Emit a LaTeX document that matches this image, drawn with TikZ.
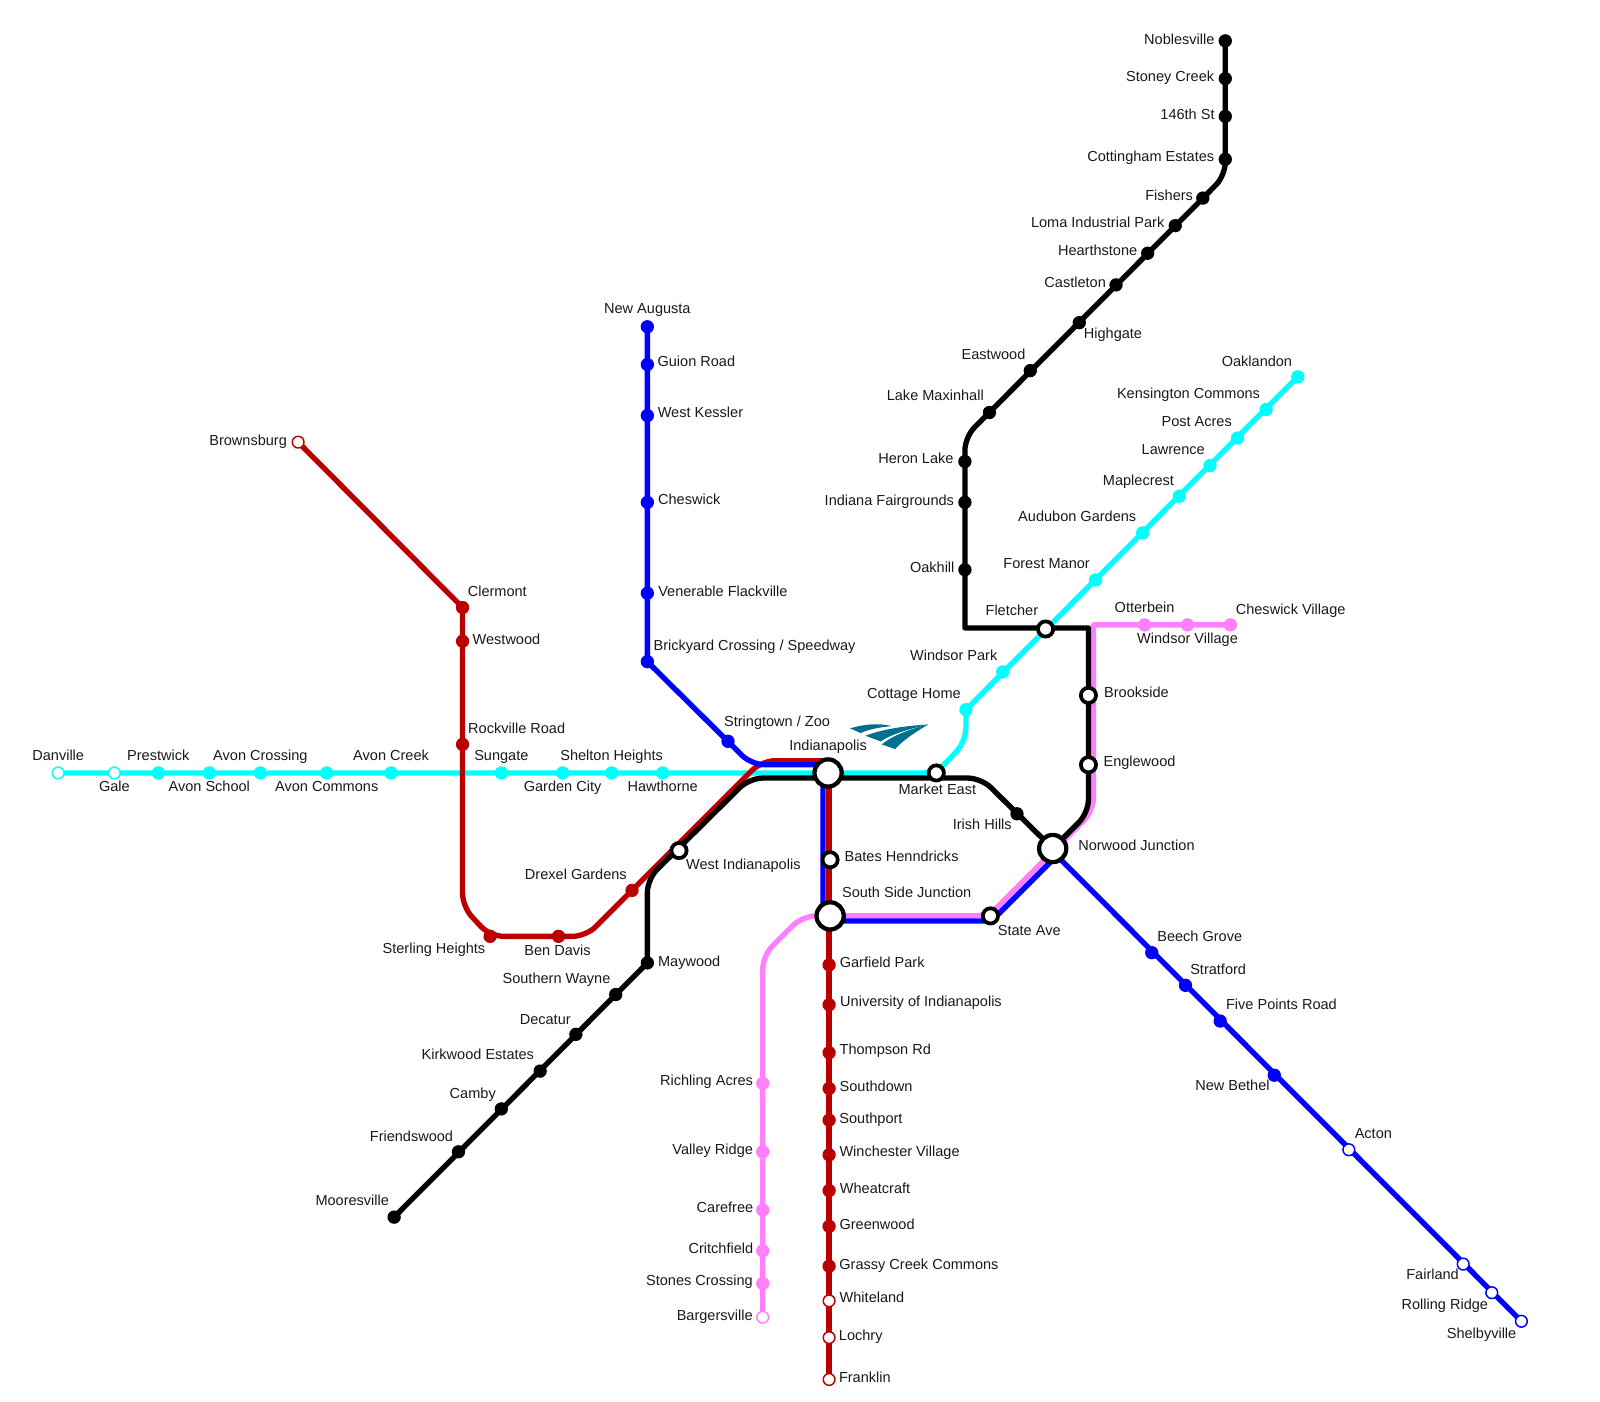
\documentclass[tikz,border=0pt]{standalone}
\usepackage{fontspec}
\setmainfont{Liberation Sans}
\usetikzlibrary{backgrounds}

\definecolor{linecyan}{HTML}{00FFFF}
\definecolor{lineblue}{HTML}{0000FF}
\definecolor{linered}{HTML}{BB0000}
\definecolor{linepink}{HTML}{FF80FF}
\definecolor{logoteal}{HTML}{00708F}

\tikzset{
  lab/.style={font=\fontsize{10.9}{12}\selectfont, text=black!90, inner sep=0pt, text height=7.8pt, text depth=0pt},
  dot/.style={circle, fill=#1, inner sep=0pt, minimum size=10pt},
  terminus/.style={circle, draw=#1, fill=white, line width=1.1pt, inner sep=0pt, minimum size=8.8pt},
  hub/.style={circle, draw=black, fill=white, line width=2.8pt, inner sep=0pt, minimum size=11.4pt},
  bighub/.style={circle, draw=black, fill=white, line width=3.2pt, inner sep=0pt, minimum size=20.4pt},
  route/.style={draw=#1, line width=4pt, line join=round, rounded corners=10pt},
}

\begin{document}
\begin{tikzpicture}[x=0.7658pt, y=-0.7658pt]
  \useasboundingbox (0,0) rectangle (1567,1373);

  % black line, north
  \node[dot=black] (noblesville) at (1200,40) {};
  \node[dot=black] (stoney) at (1200,77) {};
  \node[dot=black] (st146) at (1200,114) {};
  \node[dot=black] (cottingham) at (1200,156) {};
  \node[dot=black] (fishers) at (1178,194) {};
  \node[dot=black] (loma) at (1151,221) {};
  \node[dot=black] (hearthstone) at (1124,248) {};
  \node[dot=black] (castleton) at (1093,279) {};
  \node[dot=black] (highgate) at (1057,316) {};
  \node[dot=black] (eastwood) at (1009,363) {};
  \node[dot=black] (maxinhall) at (969,404) {};
  \node[dot=black] (heron) at (945,452) {};
  \node[dot=black] (fairgrounds) at (945,492) {};
  \node[dot=black] (oakhill) at (945,558) {};
  \node[hub] (fletcher) at (1024,616) {};
  \node[hub] (brookside) at (1066,681) {};
  \node[hub] (englewood) at (1066,749) {};
  \node[bighub] (norwood) at (1031,831) {};

  \node[lab] (noblesville_l) at (1155,38) {Noblesville};
  \node[lab] (stoney_l) at (1146,75) {Stoney Creek};
  \node[lab] (st146_l) at (1163,112) {146th St};
  \node[lab] (cottingham_l) at (1127,153) {Cottingham Estates};
  \node[lab] (fishers_l) at (1145,191) {Fishers};
  \node[lab] (loma_l) at (1075,218) {Loma Industrial Park};
  \node[lab] (hearthstone_l) at (1075,245) {Hearthstone};
  \node[lab] (castleton_l) at (1053,276) {Castleton};
  \node[lab] (highgate_l) at (1090,326) {Highgate};
  \node[lab] (eastwood_l) at (973,347) {Eastwood};
  \node[lab] (maxinhall_l) at (916,387) {Lake Maxinhall};
  \node[lab] (heron_l) at (897,449) {Heron Lake};
  \node[lab] (fairgrounds_l) at (871,490) {Indiana Fairgrounds};
  \node[lab] (oakhill_l) at (913,556) {Oakhill};
  \node[lab] (fletcher_l) at (991,598) {Fletcher};
  \node[lab] (brookside_l) at (1113,678) {Brookside};
  \node[lab] (englewood_l) at (1116,746) {Englewood};
  \node[lab] (norwood_l) at (1113,828) {Norwood Junction};

  % black line, south
  \node[dot=black] (mooresville) at (386,1192) {};
  \node[dot=black] (friendswood) at (449,1128) {};
  \node[dot=black] (camby) at (491,1086) {};
  \node[dot=black] (kirkwood) at (529,1049) {};
  \node[dot=black] (decatur) at (564,1013) {};
  \node[dot=black] (wayne) at (603,974) {};
  \node[dot=black] (maywood) at (634,943) {};
  \node[hub] (westindy) at (665,833) {};
  \node[bighub] (indy) at (811,757) {};
  \node[hub] (marketeast) at (917,757) {};
  \node[dot=black] (irish) at (996,797) {};

  \node[lab] (mooresville_l) at (345,1176) {Mooresville};
  \node[lab] (friendswood_l) at (403,1113) {Friendswood};
  \node[lab] (camby_l) at (463,1071) {Camby};
  \node[lab] (kirkwood_l) at (468,1033) {Kirkwood Estates};
  \node[lab] (decatur_l) at (534,998) {Decatur};
  \node[lab] (wayne_l) at (545,958) {Southern Wayne};
  \node[lab] (maywood_l) at (675,941) {Maywood};
  \node[lab] (westindy_l) at (728,846) {West Indianapolis};
  \node[lab] (indy_l) at (811,730) {Indianapolis};
  \node[lab] (marketeast_l) at (918,773) {Market East};
  \node[lab] (irish_l) at (962,807) {Irish Hills};

  % cyan line
  \node[terminus=linecyan] (danville) at (57,757) {};
  \node[terminus=linecyan] (gale) at (112,757) {};
  \node[dot=linecyan] (prestwick) at (155,757) {};
  \node[dot=linecyan] (avonschool) at (205,757) {};
  \node[dot=linecyan] (avoncrossing) at (255,757) {};
  \node[dot=linecyan] (avoncommons) at (320,757) {};
  \node[dot=linecyan] (avoncreek) at (383,757) {};
  \node[dot=linecyan] (sungate) at (491,757) {};
  \node[dot=linecyan] (gardencity) at (551,757) {};
  \node[dot=linecyan] (shelton) at (599,757) {};
  \node[dot=linecyan] (hawthorne) at (649,757) {};
  \node[dot=linecyan] (cottage) at (946,695) {};
  \node[dot=linecyan] (windsorpark) at (982,658) {};
  \node[dot=linecyan] (forestmanor) at (1073,568) {};
  \node[dot=linecyan] (audubon) at (1119,522) {};
  \node[dot=linecyan] (maplecrest) at (1155,486) {};
  \node[dot=linecyan] (lawrence) at (1185,456) {};
  \node[dot=linecyan] (postacres) at (1212,429) {};
  \node[dot=linecyan] (kensington) at (1240,401) {};
  \node[dot=linecyan] (oaklandon) at (1271,369) {};

  \node[lab] (danville_l) at (57,740) {Danville};
  \node[lab] (gale_l) at (112,770) {Gale};
  \node[lab] (prestwick_l) at (155,740) {Prestwick};
  \node[lab] (avonschool_l) at (205,770) {Avon School};
  \node[lab] (avoncrossing_l) at (255,740) {Avon Crossing};
  \node[lab] (avoncommons_l) at (320,770) {Avon Commons};
  \node[lab] (avoncreek_l) at (383,740) {Avon Creek};
  \node[lab] (sungate_l) at (491,740) {Sungate};
  \node[lab] (gardencity_l) at (551,770) {Garden City};
  \node[lab] (shelton_l) at (599,740) {Shelton Heights};
  \node[lab] (hawthorne_l) at (649,770) {Hawthorne};
  \node[lab] (cottage_l) at (895,679) {Cottage Home};
  \node[lab] (windsorpark_l) at (934,642) {Windsor Park};
  \node[lab] (forestmanor_l) at (1025,552) {Forest Manor};
  \node[lab] (audubon_l) at (1055,506) {Audubon Gardens};
  \node[lab] (maplecrest_l) at (1115,470) {Maplecrest};
  \node[lab] (lawrence_l) at (1149,440) {Lawrence};
  \node[lab] (postacres_l) at (1172,413) {Post Acres};
  \node[lab] (kensington_l) at (1164,385) {Kensington Commons};
  \node[lab] (oaklandon_l) at (1231,354) {Oaklandon};

  % blue line
  \node[dot=lineblue] (augusta) at (634,320) {};
  \node[dot=lineblue] (guion) at (634,357) {};
  \node[dot=lineblue] (kessler) at (634,407) {};
  \node[dot=lineblue] (cheswick) at (634,492) {};
  \node[dot=lineblue] (flackville) at (634,581) {};
  \node[dot=lineblue] (brickyard) at (634,648) {};
  \node[dot=lineblue] (stringtown) at (713,726) {};
  \node[hub] (stateave) at (970,897) {};
  \node[dot=lineblue] (beechgrove) at (1128,933) {};
  \node[dot=lineblue] (stratford) at (1161,965) {};
  \node[dot=lineblue] (fivepoints) at (1195,1000) {};
  \node[dot=lineblue] (newbethel) at (1248,1053) {};
  \node[terminus=lineblue] (acton) at (1321,1126) {};
  \node[terminus=lineblue] (fairland) at (1433,1238) {};
  \node[terminus=lineblue] (rolling) at (1461,1266) {};
  \node[terminus=lineblue] (shelbyville) at (1490,1294) {};

  \node[lab] (augusta_l) at (634,302) {New Augusta};
  \node[lab] (guion_l) at (682,354) {Guion Road};
  \node[lab] (kessler_l) at (686,404) {West Kessler};
  \node[lab] (cheswick_l) at (675,489) {Cheswick};
  \node[lab] (flackville_l) at (708,579) {Venerable Flackville};
  \node[lab] (brickyard_l) at (739,632) {Brickyard Crossing / Speedway};
  \node[lab] (stringtown_l) at (761,706) {Stringtown / Zoo};
  \node[lab] (stateave_l) at (1008,911) {State Ave};
  \node[lab] (beechgrove_l) at (1175,917) {Beech Grove};
  \node[lab] (stratford_l) at (1193,949) {Stratford};
  \node[lab] (fivepoints_l) at (1255,984) {Five Points Road};
  \node[lab] (newbethel_l) at (1207,1063) {New Bethel};
  \node[lab] (acton_l) at (1345,1110) {Acton};
  \node[lab] (fairland_l) at (1403,1248) {Fairland};
  \node[lab] (rolling_l) at (1415,1277) {Rolling Ridge};
  \node[lab] (shelbyville_l) at (1451,1306) {Shelbyville};

  % red line
  \node[terminus=linered] (brownsburg) at (292,433) {};
  \node[dot=linered] (clermont) at (453,595) {};
  \node[dot=linered] (westwood) at (453,628) {};
  \node[dot=linered] (rockville) at (453,729) {};
  \node[dot=linered] (sterling) at (480,917) {};
  \node[dot=linered] (bendavis) at (547,917) {};
  \node[dot=linered] (drexel) at (619,872) {};
  \node[hub] (bates) at (813,842) {};
  \node[bighub] (southside) at (813,897) {};
  \node[dot=linered] (garfield) at (812,945) {};
  \node[dot=linered] (university) at (812,984) {};
  \node[dot=linered] (thompson) at (812,1031) {};
  \node[dot=linered] (southdown) at (812,1066) {};
  \node[dot=linered] (southport) at (812,1097) {};
  \node[dot=linered] (winchester) at (812,1131) {};
  \node[dot=linered] (wheatcraft) at (812,1166) {};
  \node[dot=linered] (greenwood) at (812,1201) {};
  \node[dot=linered] (grassy) at (812,1240) {};
  \node[terminus=linered] (whiteland) at (812,1274) {};
  \node[terminus=linered] (lochry) at (812,1310) {};
  \node[terminus=linered] (franklin) at (812,1351) {};

  \node[lab] (brownsburg_l) at (243,431) {Brownsburg};
  \node[lab] (clermont_l) at (487,579) {Clermont};
  \node[lab] (westwood_l) at (496,626) {Westwood};
  \node[lab] (rockville_l) at (506,713) {Rockville Road};
  \node[lab] (sterling_l) at (425,929) {Sterling Heights};
  \node[lab] (bendavis_l) at (546,931) {Ben Davis};
  \node[lab] (drexel_l) at (564,856) {Drexel Gardens};
  \node[lab] (bates_l) at (883,839) {Bates Henndricks};
  \node[lab] (southside_l) at (888,874) {South Side Junction};
  \node[lab] (garfield_l) at (864,942) {Garfield Park};
  \node[lab] (university_l) at (902,981) {University of Indianapolis};
  \node[lab] (thompson_l) at (867,1028) {Thompson Rd};
  \node[lab] (southdown_l) at (858,1064) {Southdown};
  \node[lab] (southport_l) at (853,1095) {Southport};
  \node[lab] (winchester_l) at (881,1128) {Winchester Village};
  \node[lab] (wheatcraft_l) at (857,1164) {Wheatcraft};
  \node[lab] (greenwood_l) at (859,1199) {Greenwood};
  \node[lab] (grassy_l) at (900,1238) {Grassy Creek Commons};
  \node[lab] (whiteland_l) at (854,1271) {Whiteland};
  \node[lab] (lochry_l) at (843,1308) {Lochry};
  \node[lab] (franklin_l) at (847,1349) {Franklin};

  % pink line
  \node[terminus=linepink] (bargersville) at (747,1290) {};
  \node[dot=linepink] (stones) at (747,1257) {};
  \node[dot=linepink] (critchfield) at (747,1225) {};
  \node[dot=linepink] (carefree) at (747,1185) {};
  \node[dot=linepink] (valley) at (747,1128) {};
  \node[dot=linepink] (richling) at (747,1061) {};
  \node[dot=linepink] (otterbein) at (1121,612) {};
  \node[dot=linepink] (windsorvillage) at (1163,612) {};
  \node[dot=linepink] (cheswickvillage) at (1205,612) {};

  \node[lab] (bargersville_l) at (700,1288) {Bargersville};
  \node[lab] (stones_l) at (685,1254) {Stones Crossing};
  \node[lab] (critchfield_l) at (706,1223) {Critchfield};
  \node[lab] (carefree_l) at (710,1182) {Carefree};
  \node[lab] (valley_l) at (698,1126) {Valley Ridge};
  \node[lab] (richling_l) at (692,1058) {Richling Acres};
  \node[lab] (otterbein_l) at (1121,595) {Otterbein};
  \node[lab] (windsorvillage_l) at (1163,625) {Windsor Village};
  \node[lab] (cheswickvillage_l) at (1264,597) {Cheswick Village};

  % bends and offsets of the lines
  \coordinate (cyan_bend) at (946,726);
  \coordinate (black_n1) at (1200,172);
  \coordinate (black_n2) at (945,428);
  \coordinate (black_n3) at (945,615);
  \coordinate (black_n4) at (1066,615);
  \coordinate (black_n5) at (1066,796);
  \coordinate (black_s1) at (634,861);
  \coordinate (black_s2) at (734,762);
  \coordinate (black_s3) at (961,762);
  \coordinate (red_w1) at (453,888);
  \coordinate (red_w2) at (574,917);
  \coordinate (red_w3) at (746,745);
  \coordinate (red_w4) at (811,745);
  \coordinate (red_s1) at (812,757);
  \coordinate (blue_n1) at (736,749);
  \coordinate (blue_n2) at (811,749);
  \coordinate (blue_s1) at (806,757);
  \coordinate (blue_s2) at (806,902);
  \coordinate (blue_s3) at (971,902);
  \coordinate (blue_s4) at (1035,838);
  \coordinate (pink_b1) at (747,936);
  \coordinate (pink_b2) at (786,897);
  \coordinate (pink_b3) at (968,897);
  \coordinate (pink_b4) at (1071,794);
  \coordinate (pink_b5) at (1071,612);

  \begin{scope}[on background layer]
    \draw[route=linecyan] (danville.center) -- (marketeast.center) -- (cyan_bend) [sharp corners] -- (cottage.center) -- (oaklandon.center);
    \draw[route=linepink] (bargersville.center) -- (pink_b1) -- (pink_b2) -- (southside.center) -- (pink_b3) -- (pink_b4) [sharp corners] -- (pink_b5) -- (cheswickvillage.center);
    \draw[route=linered] (brownsburg.center) [sharp corners] -- (clermont.center) [rounded corners=10pt] -- (red_w1) -- (sterling.center) -- (red_w2) -- (red_w3) -- (red_w4);
    \draw[route=linered] (red_s1) -- (franklin.center);
    \draw[route=lineblue] (augusta.center) [sharp corners] -- (brickyard.center) [rounded corners=10pt] -- (blue_n1) -- (blue_n2);
    \draw[route=lineblue, sharp corners] (blue_s1) -- (blue_s2) -- (blue_s3) -- (blue_s4) -- (shelbyville.center);
    \draw[route=black] (noblesville.center) -- (black_n1) -- (black_n2) [sharp corners] -- (black_n3) -- (black_n4) [rounded corners=10pt] -- (black_n5) -- (norwood.center);
    \draw[route=black] (mooresville.center) [sharp corners] -- (maywood.center) [rounded corners=10pt] -- (black_s1) -- (black_s2) -- (black_s3) -- (norwood.center);
  \end{scope}

  % logo
  \begin{scope}[shift={(822.7,700.3)}, scale=0.3265]
    \fill[logoteal] (30,40) .. controls (75,26) and (120,24) .. (155,33) .. controls (115,37) and (85,43) .. (62,54) -- cycle;
    \fill[logoteal] (76,62) .. controls (130,42) and (190,33) .. (265,28) .. controls (200,44) and (155,57) .. (122,79) -- cycle;
    \fill[logoteal] (125,88) .. controls (160,60) and (210,42) .. (265,28) .. controls (220,55) and (190,75) .. (165,102) -- cycle;
  \end{scope}
\end{tikzpicture}
\end{document}
